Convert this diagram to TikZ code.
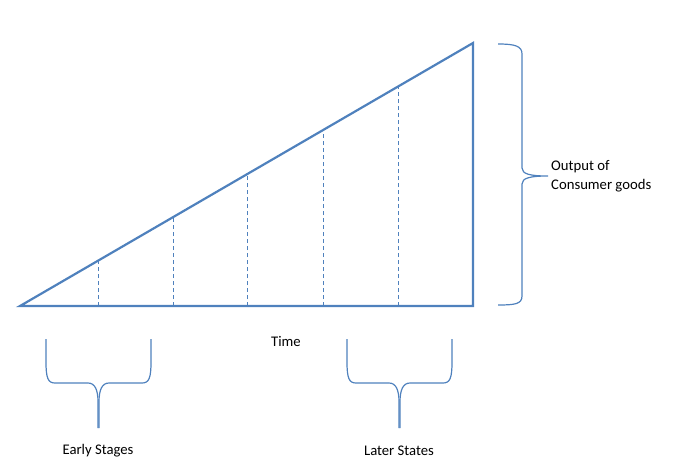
\documentclass[tikz,border=0pt]{standalone}
\usepackage{fontspec}
\setmainfont{Carlito}
\definecolor{ligne}{RGB}{79,129,189}
\tikzset{
	courbe/.style	= {color=ligne, line width=2.2pt, line join=miter},
	pointille/.style= {color=ligne, line width=1pt, dash pattern=on 4pt off 3pt},
	accolade/.style	= {color=ligne, line width=1.2pt},
	etiquette/.style= {font=\fontsize{14.7}{19}\selectfont, text=black, inner sep=0pt}
}
\begin{document}
\begin{tikzpicture}[x=1pt, y=-1pt]
				% Cadre
				\useasboundingbox	(0,0)	rectangle	(682,472)	;
				% Triangle
				\draw [courbe]		(20,306)	-- (473,306) -- (473,43) -- cycle ;
				% Verticales
				\foreach \x in {98,173,247,323,398}
					\draw [pointille]	(\x,306)	-- (\x,{306-(\x-20)*0.58057}) ;
				% Accolade de droite
				\draw [accolade]	(498,44) .. controls (515,44) and (522,46) .. (522,54)
									-- (522,168) .. controls (522,174) and (530,176) .. (548,176)
									.. controls (530,176) and (522,178) .. (522,184)
									-- (522,296) .. controls (522,304) and (515,305) .. (498,305) ;
				% Accolades du bas
				\foreach \a in {46,347} {
					\draw [accolade]	(\a,339) -- (\a,362) .. controls (\a,378) and (\a+2,383) .. (\a+9,383)
										-- (\a+42,383) .. controls (\a+49,383) and (\a+52,390) .. (\a+52,402) -- (\a+52,428) ;
					\draw [accolade]	(\a+105,339) -- (\a+105,362) .. controls (\a+105,378) and (\a+103,383) .. (\a+96,383)
										-- (\a+63,383) .. controls (\a+56,383) and (\a+53,390) .. (\a+53,402) -- (\a+53,428) ;
				}
				% Textes
				\node [etiquette]				(temps)		at (286,341)	{Time}	;
				\node [etiquette]				(debut)		at (98,451)		{Early Stages}	;
				\node [etiquette]				(fin)		at (399,451)	{Later States}	;
				\node [etiquette, anchor=west, align=left]	(sortie)	at (551,176)	{Output of\\Consumer goods}	;
			\end{tikzpicture}
\end{document}
